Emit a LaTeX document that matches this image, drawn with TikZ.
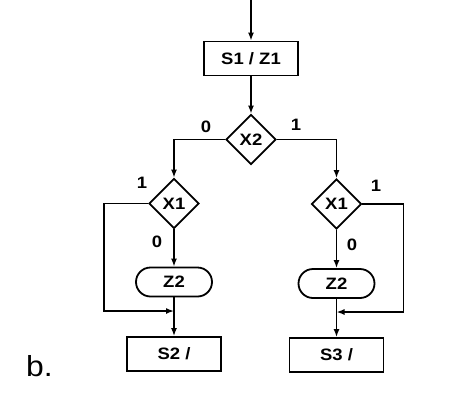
\documentclass[tikz,border=0pt]{standalone}
\usepackage{fontspec}
\newfontfamily\chartfont[FakeStretch=1.12]{Liberation Sans}
\newfontfamily\tagfont[FakeStretch=1.1]{Liberation Sans}
\usetikzlibrary{arrows.meta, positioning, shapes.geometric, shapes.misc, calc}
\tikzset{
  chart_text/.style={font=\chartfont\fontsize{16.5}{19}\selectfont\bfseries},
  state_box/.style={chart_text, draw=black, line width=1.8pt, minimum width=94pt, minimum height=34pt, inner sep=0pt},
  cond_diamond/.style={chart_text, diamond, draw=black, line width=1.8pt, minimum width=50pt, minimum height=50pt, inner sep=0pt},
  out_oval/.style={chart_text, rounded rectangle, draw=black, line width=1.8pt, minimum width=76pt, minimum height=29pt, inner sep=0pt},
  flow_arrow/.style={line width=1.5pt, color=black, ->, >={Latex[length=8pt, width=6pt]}},
  branch_label/.style={chart_text, inner sep=0pt}
}
\begin{document}
\begin{tikzpicture}[x=1pt, y=-1pt]
\useasboundingbox (0,0) rectangle (463,400);
\coordinate (entry) at (251,0);
\node[state_box] (s1_node) at (251,58.5) {S1 / Z1};
\node[cond_diamond] (x2_node) at (251,139.5) {X2};
\node[cond_diamond] (x1_left) at (174,203.5) {X1};
\node[cond_diamond] (x1_right) at (336.5,204) {X1};
\node[out_oval] (z2_left) at (174,282) {Z2};
\node[out_oval] (z2_right) at (336.5,283.5) {Z2};
\node[state_box] (s2_node) at (174,354) {S2 /};
\node[state_box] (s3_node) at (336.5,355) {S3 /};
\coordinate (merge_left) at (174,311);
\coordinate (merge_right) at (336.5,312);
% flow
\draw[flow_arrow] (entry) -- (s1_node.north);
\draw[flow_arrow] (s1_node.south) -- (x2_node.north);
\draw[flow_arrow] (x2_node.west) -| (x1_left.north);
\draw[flow_arrow] (x2_node.east) -| (x1_right.north);
\draw[flow_arrow] (x1_left.south) -- (z2_left.north);
\draw[flow_arrow] (x1_right.south) -- (z2_right.north);
\draw[flow_arrow] (z2_left.south) -- (s2_node.north);
\draw[flow_arrow] (z2_right.south) -- (s3_node.north);
% loops past Z2
\draw[flow_arrow] (x1_left.west) -- ++(-44,0) |- (merge_left);
\draw[flow_arrow] (x1_right.east) -- ++(41,0) |- (merge_right);
% labels
\node[branch_label] (lbl_x2_0) at (206,127) {0};
\node[branch_label] (lbl_x2_1) at (296,125) {1};
\node[branch_label] (lbl_left_1) at (142,183) {1};
\node[branch_label] (lbl_left_0) at (157,242) {0};
\node[branch_label] (lbl_right_1) at (376,186) {1};
\node[branch_label] (lbl_right_0) at (352,245) {0};
\node[font=\tagfont\fontsize{29}{32}\selectfont, inner sep=0pt, anchor=base west] (tag_node) at (26,376.5) {b.};
\end{tikzpicture}
\end{document}
